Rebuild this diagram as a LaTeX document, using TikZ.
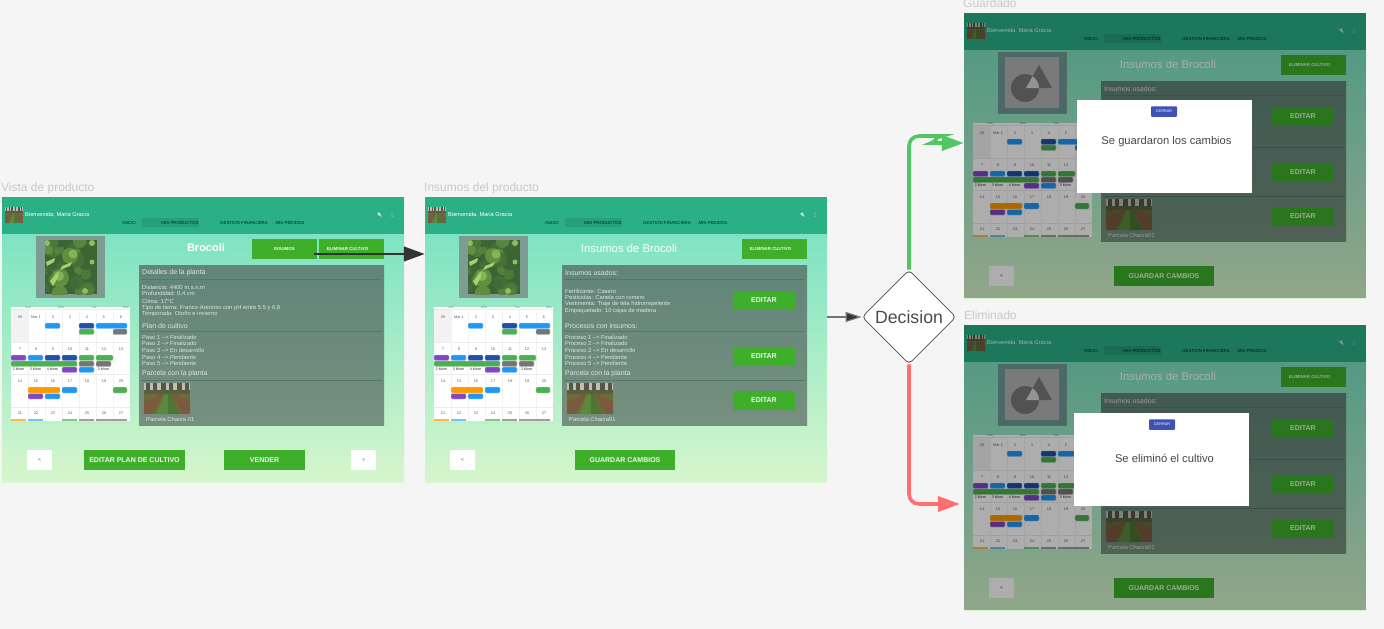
\documentclass[tikz,border=0pt]{standalone}
\usepackage{fontspec}
\setmainfont{Liberation Sans}
\usetikzlibrary{shapes.geometric,arrows.meta}
\definecolor{pagebg}{HTML}{F5F5F5}
\definecolor{labelgray}{HTML}{C8C8C8}
\definecolor{barcol}{HTML}{2BB086}
\definecolor{barsel}{HTML}{26A07A}
\definecolor{gradtop}{HTML}{7EE3C3}
\definecolor{gradbot}{HTML}{D6F6CC}
\definecolor{panTop}{HTML}{61857A}
\definecolor{panBot}{HTML}{76907E}
\definecolor{panLine}{HTML}{55766A}
\definecolor{panText}{HTML}{DCE8E0}
\definecolor{btn}{HTML}{3FAE2B}
\definecolor{evBlue}{HTML}{2196F3}
\definecolor{evDark}{HTML}{1F4FA8}
\definecolor{evGreen}{HTML}{4CAF50}
\definecolor{evGray}{HTML}{757575}
\definecolor{evPurple}{HTML}{7E47C4}
\definecolor{evOrange}{HTML}{FF9800}
\definecolor{indigoBtn}{HTML}{3F51B5}
\definecolor{arrowDark}{HTML}{333333}
\definecolor{okGreen}{HTML}{52C761}
\definecolor{noRed}{HTML}{FF6F6F}
\definecolor{soilA}{HTML}{7A5B3F}
\definecolor{soilB}{HTML}{6E6A3C}
\definecolor{cropA}{HTML}{5C8A3C}
\definecolor{cropB}{HTML}{4E7436}
\definecolor{treeA}{HTML}{5A5346}
\definecolor{skyA}{HTML}{B9C2B6}
\definecolor{brocBase}{HTML}{3C6434}
\definecolor{brocMid}{HTML}{5E9040}
\definecolor{brocHi}{HTML}{A8D06C}
\definecolor{boxGrey}{HTML}{7F9C92}
\newcounter{tn}
\newif\ifModalOpen
\newcommand{\Tx}[6][west]{\stepcounter{tn}\node[anchor=#1,inner sep=0pt,text=#5,font=\fontsize{#4}{#4}\selectfont] (t\arabic{tn}) at (#2,#3) {#6};}
\newcommand{\Rc}[5]{\fill[#5] (#1,#2) rectangle (#3,#4);}
\newcommand{\Ev}[5]{\filldraw[fill=#5,draw=white!70!#5,line width=.4pt,rounded corners=1pt] (#1,#2) rectangle (#3,#4);}
\newcommand{\GBtn}[6]{\stepcounter{tn}\Rc{#1}{#2}{#3}{#4}{btn}\node[inner sep=0pt,text=white!92!btn,font=\fontsize{#5}{#5}\selectfont\bfseries] (t\arabic{tn}) at ({(#1+#3)/2},{(#2+#4)/2}) {#6};}
\newcommand{\Farm}[4]{\begin{scope}[shift={(#1,#2)},xscale=#3/100,yscale=#4/100]
\fill[soilB] (0,0) rectangle (100,100);
\fill[skyA] (0,0) rectangle (100,22);
\foreach \x/\w in {4/9,20/8,36/11,54/8,72/10,90/7} \fill[treeA] (\x,0) rectangle (\x+\w,28);
\fill[treeA!60!cropB] (0,24) rectangle (100,36);
\fill[soilA] (0,100) -- (0,62) -- (36,36) -- (42,36) -- (18,100) -- cycle;
\fill[soilA] (100,100) -- (100,62) -- (68,36) -- (62,36) -- (84,100) -- cycle;
\fill[cropA] (26,100) -- (45,36) -- (52,36) -- (52,100) -- cycle;
\fill[cropB] (52,100) -- (52,36) -- (59,36) -- (76,100) -- cycle;
\end{scope}}
\newcommand{\Broc}[4]{\begin{scope}
\clip (#1,#2) rectangle ({#1+#3},{#2+#4});
\fill[brocBase] (#1,#2) rectangle ({#1+#3},{#2+#4});
\pgfmathsetseed{11}
\foreach \i in {1,...,34}{
\pgfmathsetmacro{\px}{#1+rnd*#3}\pgfmathsetmacro{\py}{#2+rnd*#4}\pgfmathsetmacro{\pr}{3+rnd*5}\pgfmathsetmacro{\pm}{rnd*100}
\fill[brocMid!\pm!brocBase] (\px,\py) circle (\pr);}
\fill[brocMid] (70,256) circle (8) (60,278) circle (9) (48,250) circle (5);
\fill[brocHi!55!brocMid] (73,254) circle (4.5) (59,276) circle (5);
\fill[brocHi] (62,266) -- (72,262) -- (70,266) -- (60,270) -- cycle;
\fill[brocHi] (50,281) -- (58,272) -- (58,277) -- (53,286) -- cycle;
\fill[brocHi] (46,262) -- (55,258) -- (54,262) -- (47,266) -- cycle;
\fill[brocHi!70!brocMid] (47,243) circle (3) (92,243) circle (3) (92,262) circle (2.5) (85,291) circle (3);
\end{scope}}
\newcommand{\Calendar}{%
\Rc{11}{307}{130}{421}{white}
\Rc{11}{309}{28}{342}{black!5}
\draw[black!8,line width=.4pt] (11,309) -- (130,309) (11,342) -- (130,342) (11,374) -- (130,374) (11,407) -- (130,407);
\foreach \c in {28,45,62,79,96,113} \draw[black!5,line width=.4pt] (\c,309) -- (\c,421);
\foreach \lx/\lt in {28/SUN,61/MON,94/TUE,126/WED} {\Tx[center]{\lx}{308}{2.6}{black!55}{\lt}}
\foreach \lx/\lt in {20/28,36/Mar 1,53/2,70/3,87/4,104/5} {\Tx[center]{\lx}{317}{3.8}{black!65}{\lt}}
\foreach \lx/\lt in {20/7,36/8,53/9,70/10,87/11,104/12} {\Tx[center]{\lx}{349}{3.8}{black!65}{\lt}}
\ifModalOpen\else\Tx[center]{121}{317}{3.8}{black!65}{6}\Tx[center]{121}{349}{3.8}{black!65}{13}\fi
\foreach \lx/\lt in {20/14,36/15,53/16,70/17,87/18,104/19,121/20} {\Tx[center]{\lx}{381}{3.8}{black!65}{\lt}}
\foreach \lx/\lt in {20/21,36/22,53/23,70/24,87/25,104/26,121/27} {\Tx[center]{\lx}{413}{3.8}{black!65}{\lt}}
\Ev{45}{323}{60}{328.5}{evBlue}\Ev{79}{323}{94}{328.5}{evDark}\Ev{79}{329}{94}{334.5}{evGreen}
\Ev{96}{323}{127}{328.5}{evBlue}\Ev{113}{329}{127}{334.5}{evGray}
\Ev{11}{355}{26}{360.5}{evPurple}\Ev{28}{355}{43}{360.5}{evBlue}\Ev{45}{355}{60}{360.5}{evDark}\Ev{62}{355}{77}{360.5}{evDark}
\Ev{79}{355}{94}{360.5}{evGreen}\Ev{96}{355}{113}{360.5}{evGreen}
\Ev{11}{361}{77}{366.5}{evGreen}\Ev{79}{361}{94}{366.5}{evGray}\Ev{96}{361}{111}{366.5}{evGray}
\Ev{62}{367}{77}{372.5}{evPurple}\Ev{79}{367}{94}{372.5}{evBlue}
\foreach \lx/\lt in {18.5/2 More,35.5/3 More,52.5/4 More,103.5/3 More} {\Tx[center]{\lx}{369.7}{3.6}{black!85}{\lt}}
\Ev{28}{387}{60}{393}{evOrange}\Ev{62}{387}{77}{393}{evBlue}\Ev{113}{387}{127}{393}{evGreen}
\Ev{28}{393.5}{43}{399}{evPurple}\Ev{45}{393.5}{60}{399}{evBlue}
\Rc{11}{419}{26}{421}{evOrange!70!white}\Rc{28}{419}{43}{421}{evBlue!60!white}\Rc{62}{419}{77}{421}{evGreen!70!white}\Rc{79}{419}{94}{421}{evGray!70!white}\Rc{96}{419}{127}{421}{evGray!70!white}
}
\newcommand{\ScreenBase}{%
\shade[top color=gradtop,bottom color=gradbot] (2,234) rectangle (404,482);
\Rc{2}{197}{404}{234}{barcol}
\Farm{5}{207}{18}{16}
\Tx{25}{214.5}{5.7}{white}{Bienvenida, Maria Gracia}
\Rc{142}{218}{199}{227}{barsel}
\Tx[center]{129}{222.5}{4.4}{black!70!teal}{INICIO}
\Tx[center]{180}{222.5}{4.4}{black!70!teal}{MIS PRODUCTOS}
\Tx[center]{244}{222.5}{4.4}{black!70!teal}{GESTION FINANCIERA}
\Tx[center]{290}{222.5}{4.4}{black!70!teal}{MIS PEDIDOS}
\draw[white,line width=.6pt] (379,214) circle (1.3) (380,215) -- (381.5,216.5);
\fill[white] (392,212.7) circle (.45) (392,214.5) circle (.45) (392,216.3) circle (.45);
\Rc{36}{236}{105}{298}{boxGrey}
\Broc{45}{240}{52}{54}
\Calendar
}
\newcommand{\PanelBg}{%
\shade[top color=panTop,bottom color=panBot] (139,265) rectangle (384,425);
\draw[panLine,line width=.6pt] (141,279) -- (382,279) (141,331) -- (382,331) (141,380) -- (382,380);
}
\newcommand{\ElimBtn}{\Rc{319}{239}{384}{259}{btn}\Tx[center]{347.5}{249}{4.4}{white!92!btn}{\bfseries ELIMINAR CULTIVO}}
\newcommand{\ScreenOne}{%
\ScreenBase
\Tx[center]{206}{248}{11}{white}{\bfseries Brocoli}
\GBtn{252}{239}{317}{259}{4.4}{INSUMOS}
\ElimBtn
\PanelBg
\Tx{142}{273}{7}{panText}{Detalles de la planta}
\Tx{142}{287.5}{5.8}{panText}{Distancia: 4400 m.s.n.m}
\Tx{142}{294}{5.8}{panText}{Profundidad: 0,4 cm}
\Tx{142}{301}{5.8}{panText}{Clima: 17°C}
\Tx{142}{307.5}{5.8}{panText}{Tipo de tierra: Franco-Arenoso con pH entre 5.5 y 6.8}
\Tx{142}{314}{5.8}{panText}{Temporada: Otoño e invierno}
\Tx{142}{326}{7}{panText}{Plan de cultivo}
\Tx{142}{337}{5.8}{panText}{Paso 1 --> Finalizado}
\Tx{142}{343.5}{5.8}{panText}{Paso 2 --> Finalizado}
\Tx{142}{350}{5.8}{panText}{Paso 3 --> En desarrollo}
\Tx{142}{357}{5.8}{panText}{Paso 4 --> Pendiente}
\Tx{142}{363.5}{5.8}{panText}{Paso 5 --> Pendiente}
\Tx{142}{374}{7}{panText}{Parcela con la planta}
\Farm{144}{383}{46}{31}
\Tx{146}{419}{5.8}{panText}{Parcela Chacra 01}
\Rc{27}{450}{52}{470}{white}\Tx[center]{39.5}{460}{5}{black!70}{<}
\GBtn{84}{450}{185}{470}{7}{EDITAR PLAN DE CULTIVO}
\GBtn{224}{450}{305}{470}{7}{VENDER}
\Rc{351}{450}{376}{470}{white}\Tx[center]{363.5}{460}{5}{black!70}{>}
}
\newcommand{\ScreenTwo}{%
\ScreenBase
\Tx[center]{206}{248}{11.3}{white}{Insumos de Brocoli}
\ElimBtn
\PanelBg
\Tx{142}{273}{7}{panText}{Insumos usados:}
\ifModalOpen\else
\Tx{142}{291}{5.8}{panText}{Fertilizante: Casero}
\Tx{142}{297.5}{5.8}{panText}{Pesticidas: Canela con romero}
\Tx{142}{304}{5.8}{panText}{Vestimenta: Traje de tela hidrorrepelente}
\Tx{142}{311}{5.8}{panText}{Empaquetado: 10 cajas de madera}
\Tx{142}{326}{7}{panText}{Procesos con insumos:}
\Tx{142}{337}{5.8}{panText}{Proceso 1 --> Finalizado}
\Tx{142}{343.5}{5.8}{panText}{Proceso 2 --> Finalizado}
\Tx{142}{350}{5.8}{panText}{Proceso 3 --> En desarrollo}
\Tx{142}{357}{5.8}{panText}{Proceso 4 --> Pendiente}
\Tx{142}{363.5}{5.8}{panText}{Proceso 5 --> Pendiente}
\Tx{142}{374}{7}{panText}{Parcela con la planta}
\fi
\Farm{144}{383}{46}{31}
\Tx{146}{419}{5.8}{panText}{Parcela Chacra01}
\GBtn{310}{291}{372}{310}{7}{EDITAR}
\GBtn{310}{347}{372}{366}{7}{EDITAR}
\GBtn{310}{391}{372}{410}{7}{EDITAR}
\Rc{27}{450}{52}{470}{white}\Tx[center]{39.5}{460}{5}{black!70}{<}
\GBtn{152}{450}{252}{470}{7}{GUARDAR CAMBIOS}
}
\newcommand{\Dimmed}{%
\fill[black,opacity=.32] (2,197) rectangle (404,482);
\Rc{36}{236}{104}{297}{black!45!teal!40!gray}
\Rc{43}{241}{97}{292}{black!52}
\fill[black!68] (63,272) circle (14);
\fill[black!68] (77,249) -- (64,272) -- (90,272) -- cycle;
\begin{scope}\clip (63,272) circle (14);\fill[black!42] (77,249) -- (64,272) -- (90,272) -- cycle;\end{scope}
}
\begin{document}
\begin{tikzpicture}[x=1pt,y=-1pt,
 framebox/.style={inner sep=0pt,minimum width=402pt,minimum height=285pt},
 darkarrow/.style={draw=arrowDark,line width=2.6pt,-{Triangle[length=21pt,width=14.5pt,fill=arrowDark]}},
 thinarrow/.style={draw=black!55,line width=1.2pt,-{Triangle[length=16pt,width=10pt,fill=arrowDark]}},
 okarrow/.style={draw=okGreen,line width=3.6pt,rounded corners=10pt,-{Triangle[length=22pt,width=15pt,fill=okGreen]}},
 noarrow/.style={draw=noRed,line width=3.6pt,rounded corners=10pt,-{Triangle[length=22pt,width=15pt,fill=noRed]}},
 decisionbox/.style={diamond,aspect=1,draw=black!70,fill=white,line width=.8pt,minimum width=94pt,minimum height=94pt,inner sep=0pt,rounded corners=4pt,text=black!70,font=\fontsize{17.7}{18}\selectfont},
 closebtn/.style={fill=indigoBtn,text=white,inner sep=0pt,minimum width=26pt,minimum height=10.5pt,rounded corners=.8pt,font=\fontsize{3.8}{4}\selectfont},
 modaltext/.style={inner sep=0pt,text=black!72,font=\fontsize{11.2}{12}\selectfont},
 captext/.style={anchor=west,inner sep=0pt,text=labelgray,font=\fontsize{12}{12}\selectfont}]
\useasboundingbox (0,0) rectangle (1384,629);
\fill[pagebg] (0,0) rectangle (1384,629);
% frames
\node[framebox] (f1) at (203,339.5) {};
\node[framebox] (f2) at (626,339.5) {};
\node[framebox] (f3) at (1165,155.5) {};
\node[framebox] (f4) at (1165,466.5) {};
\node[captext] (c1) at (1,188.5) {Vista de producto};
\node[captext] (c2) at (424,188.5) {Insumos del producto};
\node[captext] (c3) at (963,3.5) {Guardado};
\node[captext] (c4) at (964,315.5) {Eliminado};
\ScreenOne
\begin{scope}[shift={(423,0)}]\ScreenTwo\end{scope}
\ModalOpentrue
\begin{scope}[shift={(962,-184)}]\ScreenTwo\Dimmed\end{scope}
\begin{scope}[shift={(962,128)}]\ScreenTwo\Dimmed\end{scope}
% modals
\Rc{1077}{99.5}{1252}{193}{white}
\node[closebtn] (b3) at (1164,111.5) {CERRAR};
\node[modaltext] (m3) at (1166.5,142) {Se guardaron los cambios};
\Rc{1074}{412.5}{1249}{506}{white}
\node[closebtn] (b4) at (1162,424.5) {CERRAR};
\node[modaltext] (m4) at (1164.5,458) {Se eliminó el cultivo};
% decision and connectors
\node[decisionbox] (dec) at (909,317) {Decision};
\coordinate (a1) at (314,254);
\draw[darkarrow] (a1) -- (f2.west |- a1);
\draw[thinarrow] (f2.east |- dec) -- (dec.west);
\coordinate (gtop) at (909,136);
\coordinate (gbend) at (932,136);
\coordinate (gin) at (941,143);
\coordinate (rlow) at (909,504);
\coordinate (rend) at (960,504);
\draw[okarrow] (dec.north) -- (gtop) -- (gbend) .. controls (936,136) and (935,143) .. (gin) -- (f3.west |- gin);
\draw[noarrow] (dec.south) -- (rlow) -- (rend);
\end{tikzpicture}
\end{document}
